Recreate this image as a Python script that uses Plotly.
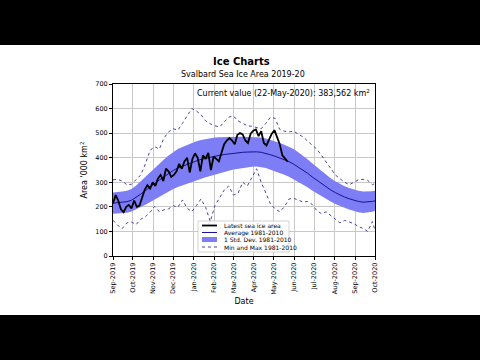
import pandas as pd
import plotly.graph_objects as go

# ---- reference climatology (weekly, 1981-2010), '000 km2 ----
ref_dates = list(pd.date_range("2019-09-01", "2020-09-27", freq="7D")) + [pd.Timestamp("2020-10-01")]
avg_vals = [215, 216, 218, 221, 227,
            238, 252, 266, 281,
            295, 309, 322, 336,
            348, 358, 366, 373, 381,
            387, 393, 398, 403,
            407, 410, 413, 416,
            419, 420, 422, 423, 424,
            424, 422, 418, 412,
            406, 399, 392, 384, 374,
            362, 350, 337, 322,
            308, 294, 281, 269,
            258, 248, 240, 233, 227,
            222, 219, 219, 222,
            225]
std_vals = [43, 43, 44, 45, 46,
            49, 53, 57, 61,
            65, 68, 71, 73,
            75, 77, 78, 79, 80,
            80, 79, 78, 77,
            75, 73, 71, 69,
            67, 65, 63, 62, 61,
            60, 60, 60, 61,
            61, 61, 61, 61, 61,
            60, 59, 57, 55,
            53, 51, 49, 47,
            46, 45, 44, 44, 44,
            44, 44, 43, 42,
            41]
max_vals = [310, 312, 305, 290, 292,
            310, 330, 375, 430,
            445, 435, 480, 505,
            518, 512, 540, 570, 600,
            590, 575, 550, 538,
            530, 525, 545, 565,
            570, 550, 540, 530, 528,
            522, 518, 540, 565,
            560, 515, 508, 505, 508,
            495, 485, 468, 450,
            435, 410, 385, 355,
            330, 315, 300, 290, 300,
            310, 312, 308, 290,
            295]
min_vals = [145, 125, 112, 135, 138,
            128, 150, 160, 178,
            202, 180, 188, 192,
            205, 198, 228, 195, 180,
            205, 232, 198, 140,
            205, 235, 268, 285,
            248, 255, 300, 285, 320,
            355, 300, 255, 212,
            192, 180, 200, 232, 235,
            228, 220, 222, 210,
            185, 172, 180, 165,
            152, 135, 145, 140, 132,
            120, 112, 100, 140,
            105]

# ---- latest season (every 4 days, 1 Sep 2019 - 22 May 2020) ----
latest_dates = list(pd.date_range("2019-09-01", "2020-05-22", freq="4D"))
latest_vals = [214, 248, 225, 190, 178, 200, 208, 194, 226, 200,
               205, 240, 270, 288, 275, 300, 285, 316, 330, 305,
               355, 345, 322, 330, 345, 375, 355, 385, 400, 340,
               395, 418, 400, 345, 410, 395, 420, 350, 405, 395,
               385, 420, 455, 470, 480, 470, 455, 493, 500, 495,
               470, 460, 498, 510, 515, 488, 508, 460, 450, 475,
               498, 512, 480, 455, 410, 395, 384]

upper = [a + s for a, s in zip(avg_vals, std_vals)]
lower = [a - s for a, s in zip(avg_vals, std_vals)]

BAND = "rgb(125,125,245)"
AVG = "rgb(20,20,150)"
MM = "rgb(70,70,160)"
FONT = "DejaVu Sans"

fig = go.Figure()
fig.add_trace(go.Scatter(x=ref_dates, y=upper, mode="lines", line=dict(width=0),
                         hoverinfo="skip", showlegend=False))
fig.add_trace(go.Scatter(x=ref_dates, y=lower, mode="lines", line=dict(width=0),
                         fill="tonexty", fillcolor=BAND, name="1 Std. Dev. 1981-2010",
                         showlegend=False))
fig.add_trace(go.Scatter(x=ref_dates, y=avg_vals, mode="lines",
                         line=dict(color=AVG, width=1), name="Average 1981-2010", showlegend=False))
fig.add_trace(go.Scatter(x=ref_dates, y=max_vals, mode="lines",
                         line=dict(color=MM, width=1, dash="dot"), name="Max", showlegend=False))
fig.add_trace(go.Scatter(x=ref_dates, y=min_vals, mode="lines",
                         line=dict(color=MM, width=1, dash="dot"), name="Min", showlegend=False))
fig.add_trace(go.Scatter(x=latest_dates, y=latest_vals, mode="lines",
                         line=dict(color="black", width=1.8), name="Latest sea ice area",
                         showlegend=False))

# plot area: x 113..375, y 84..256
L, R, T, B = 113, 375, 84, 256
W, H = R - L, B - T
def px(x):
    return (x - L) / W
def py(y):
    return (B - y) / H

shapes = [
    # letterbox bars
    dict(type="rect", xref="paper", yref="paper", x0=px(-5), x1=px(485), y0=py(45), y1=py(-5),
         fillcolor="black", line=dict(width=0), layer="above"),
    dict(type="rect", xref="paper", yref="paper", x0=px(-5), x1=px(485), y0=py(365), y1=py(315),
         fillcolor="black", line=dict(width=0), layer="above"),
    # legend box
    dict(type="rect", xref="paper", yref="paper", x0=px(198), x1=px(289), y0=py(252), y1=py(221),
         fillcolor="rgba(255,255,255,0.85)", line=dict(color="rgb(200,200,200)", width=0.8), layer="above"),
    dict(type="line", xref="paper", yref="paper", x0=px(202), x1=px(217), y0=py(225.5), y1=py(225.5),
         line=dict(color="black", width=1.8), layer="above"),
    dict(type="line", xref="paper", yref="paper", x0=px(202), x1=px(217), y0=py(232.5), y1=py(232.5),
         line=dict(color=AVG, width=1), layer="above"),
    dict(type="rect", xref="paper", yref="paper", x0=px(202), x1=px(217), y0=py(242), y1=py(237),
         fillcolor=BAND, line=dict(width=0), layer="above"),
    dict(type="line", xref="paper", yref="paper", x0=px(202), x1=px(217), y0=py(247), y1=py(247),
         line=dict(color=MM, width=1, dash="dot"), layer="above"),
]

legend_texts = ["Latest sea ice area", "Average 1981-2010", "1 Std. Dev. 1981-2010", "Min and Max 1981-2010"]
legend_rows = [225.5, 232.5, 239.5, 247]
annotations = [
    dict(text="<b>Ice Charts</b>", xref="paper", yref="paper", x=px(241), y=py(61),
         showarrow=False, font=dict(family=FONT, size=10, color="black"), xanchor="center", yanchor="middle"),
    dict(text="Svalbard Sea Ice Area 2019-20", xref="paper", yref="paper", x=px(243), y=py(75),
         showarrow=False, font=dict(family=FONT, size=8, color="black"), xanchor="center", yanchor="middle"),
    dict(text="Current value (22-May-2020): 383,562 km<sup>2</sup>", xref="paper", yref="paper",
         x=px(372), y=py(93), showarrow=False, font=dict(family=FONT, size=8, color="black"),
         xanchor="right", yanchor="middle"),
]
for t, r in zip(legend_texts, legend_rows):
    annotations.append(dict(text=t, xref="paper", yref="paper", x=px(222), y=py(r), showarrow=False,
                            font=dict(family=FONT, size=6, color="black"),
                            xanchor="left", yanchor="middle"))

fig.update_layout(
    width=480, height=360,
    margin=dict(l=L, r=480 - R, t=T, b=360 - B, pad=0),
    paper_bgcolor="white", plot_bgcolor="white",
    font=dict(family=FONT, size=7, color="black"),
    shapes=shapes, annotations=annotations, showlegend=False,
)
fig.update_xaxes(
    range=["2019-09-01", "2020-10-01"], tickformat="%b-%Y", dtick="M1", tick0="2019-09-01",
    tickangle=-90, showgrid=True, gridcolor="rgb(200,200,200)", gridwidth=0.8,
    showline=True, linecolor="black", linewidth=1, mirror=True,
    ticks="outside", ticklen=3, tickcolor="black", tickfont=dict(size=6.5),
    title=dict(text="Date", font=dict(size=8), standoff=4), zeroline=False,
)
fig.update_yaxes(
    range=[0, 700], dtick=100, showgrid=True, gridcolor="rgb(200,200,200)", gridwidth=0.8,
    showline=True, linecolor="black", linewidth=1, mirror=True,
    ticks="outside", ticklen=3, tickcolor="black", tickfont=dict(size=6.5),
    title=dict(text="Area '000 km<sup>2</sup>", font=dict(size=8), standoff=6), zeroline=False,
)

fig.write_html("out.html", config={"displayModeBar": False},
               post_script="document.body.style.margin='0';document.body.style.overflow='hidden';")
